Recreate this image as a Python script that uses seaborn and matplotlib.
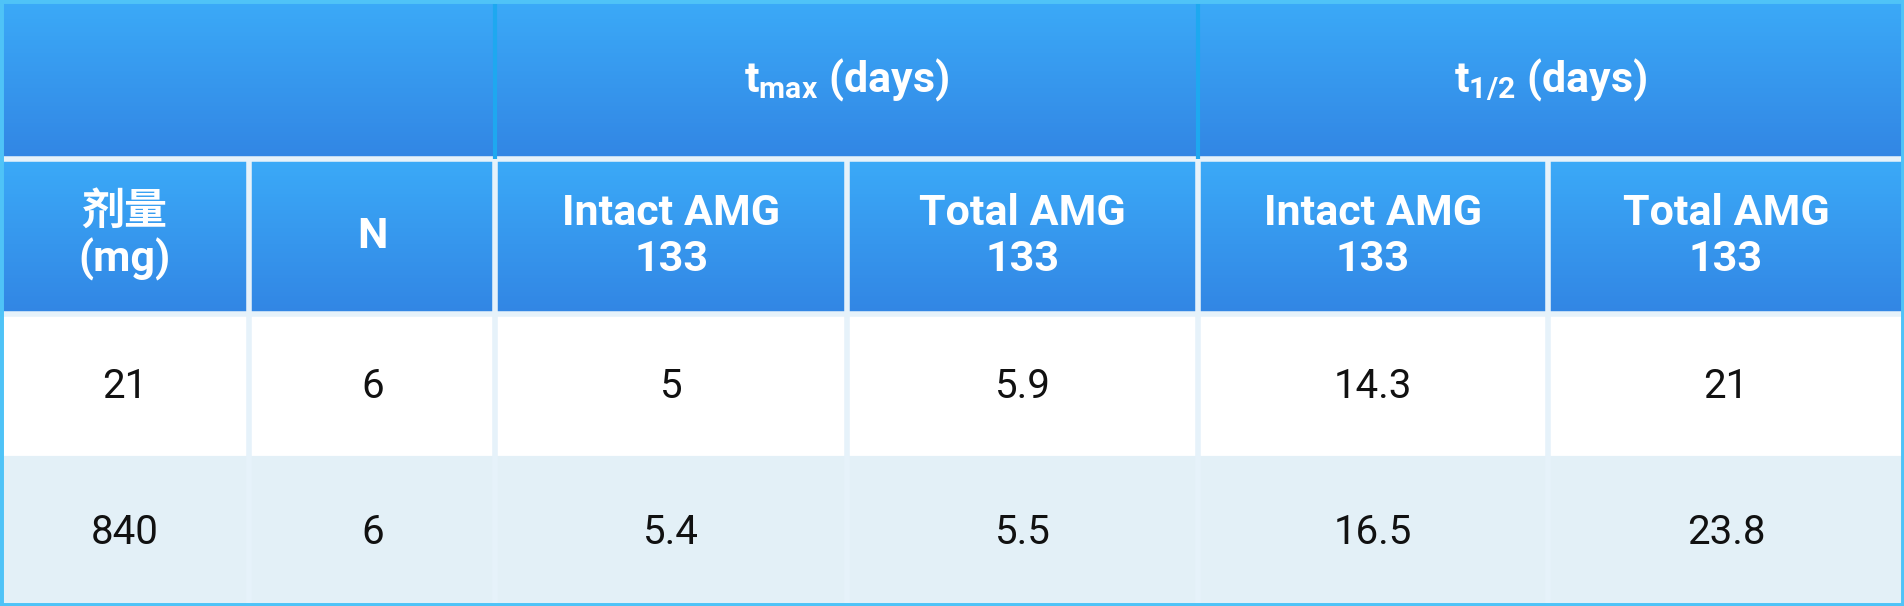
import numpy as np
import seaborn as sns
import matplotlib.pyplot as plt
from matplotlib.colors import LinearSegmentedColormap

doses = ["21", "840"]
n_subjects = ["6", "6"]
tmax_intact = ["5", "5.4"]
tmax_total = ["5.9", "5.5"]
thalf_intact = ["14.3", "16.5"]
thalf_total = ["21", "23.8"]

group_headers = ["", r"t$_{\mathbf{max}}$ (days)", r"t$_{\mathbf{1/2}}$ (days)"]
col_headers = ["剂量\n(mg)", "N", "Intact AMG\n133", "Total AMG\n133", "Intact AMG\n133", "Total AMG\n133"]

sns.set_style("white")
plt.rcParams["font.family"] = ["Roboto", "Noto Sans CJK SC", "DejaVu Sans"]
plt.rcParams["mathtext.fontset"] = "custom"
plt.rcParams["mathtext.bf"] = "Roboto:bold"
plt.rcParams["mathtext.rm"] = "Roboto"

# column edges and row edges in axes fractions (y from top)
xs = [0, 0.131, 0.260, 0.445, 0.629, 0.813, 1.0]
ys = [0, 0.262, 0.518, 0.756, 1.0]

fig = plt.figure(figsize=(19.04, 6.06), dpi=100)
ax = fig.add_axes([0, 0, 1, 1])
ax.set_xlim(0, 1)
ax.set_ylim(1, 0)
ax.axis("off")

grad = LinearSegmentedColormap.from_list("hdr", ["#3BAAF8", "#3286E4"])
g = np.linspace(0, 1, 100).reshape(-1, 1)
# header rows gradient
for r in range(2):
    ax.imshow(g, cmap=grad, aspect="auto", extent=[0, 1, ys[r + 1], ys[r]], zorder=0)

# data row backgrounds
ax.fill_between([0, 1], ys[2], ys[3], color="white", zorder=0)
ax.fill_between([0, 1], ys[3], ys[4], color="#E3F0F7", zorder=0)

# grid lines
ax.hlines(ys[1], 0, 1, color="#E6F2FA", lw=4, zorder=2)
ax.hlines(ys[2], 0, 1, color="#E6F2FA", lw=4, zorder=2)
ax.hlines(ys[3], 0, 1, color="#E3F0F7", lw=3, zorder=2)
for i, x in enumerate(xs[1:-1], start=1):
    top = ys[1] if i in (1, 4 - 2 + 1) or i in (1, 3, 5) else ys[0]
    if x in (xs[2], xs[4]):
        ax.vlines(x, ys[0], ys[1], color="#1EA8F0", lw=3, zorder=2)
        top = ys[1]
    ax.vlines(x, top, ys[4], color="#E6F2FA", lw=4, zorder=2)
ax.add_patch(plt.Rectangle((0, 0), 1, 1, fill=False, ec="#4FC3F7", lw=5, zorder=3))

# group header text
ax.text((xs[2] + xs[4]) / 2, ys[1] / 2, group_headers[1], ha="center", va="center",
        color="white", fontsize=31, fontweight="bold", zorder=4)
ax.text((xs[4] + xs[6]) / 2, ys[1] / 2, group_headers[2], ha="center", va="center",
        color="white", fontsize=31, fontweight="bold", zorder=4)

for i, label in enumerate(col_headers):
    ax.text((xs[i] + xs[i + 1]) / 2, (ys[1] + ys[2]) / 2, label, ha="center", va="center",
            color="white", fontsize=31, fontweight="bold", linespacing=1.15, zorder=4)

columns = [doses, n_subjects, tmax_intact, tmax_total, thalf_intact, thalf_total]
for c, col in enumerate(columns):
    for r, val in enumerate(col):
        ax.text((xs[c] + xs[c + 1]) / 2, (ys[2 + r] + ys[3 + r]) / 2, val, ha="center",
                va="center", color="#111111", fontsize=29, zorder=4)

plt.savefig("out.png", dpi=100)
plt.close()
